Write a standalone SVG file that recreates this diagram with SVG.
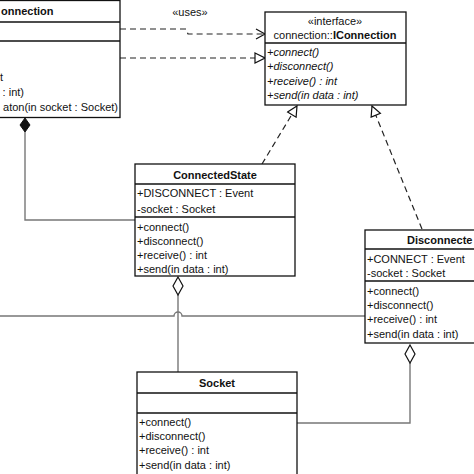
<svg xmlns="http://www.w3.org/2000/svg" width="474" height="474" viewBox="0 0 474 474">
<style>
.box{fill:#fff;stroke:#111;stroke-width:1.3}
.sep{stroke:#111;stroke-width:1.3}
text{font-family:"Liberation Sans",Arial,sans-serif;font-size:11px;fill:#111}
.b{font-weight:bold}
.i{font-style:italic}
.c{text-anchor:middle}
.dash{fill:none;stroke:#222;stroke-width:1.2;stroke-dasharray:6,4}
.sol{fill:none;stroke:#777;stroke-width:1.4}
</style>
<defs>
<marker id="tri" markerUnits="userSpaceOnUse" markerWidth="12" markerHeight="12" refX="10" refY="5" orient="auto" viewBox="-1 -1 12 12">
<path d="M0,0 L10,5 L0,10 Z" fill="#fff" stroke="#111" stroke-width="1.2"/>
</marker>
<marker id="open" markerUnits="userSpaceOnUse" markerWidth="12" markerHeight="12" refX="9" refY="5" orient="auto" viewBox="-1 -1 12 12">
<path d="M0,0 L9,5 L0,10" fill="none" stroke="#111" stroke-width="1.2"/>
</marker>
</defs>
<rect width="474" height="474" fill="#fff"/>

<g id="connectors">
<path class="dash" d="M120,29 H186 L188,34 H265" marker-end="url(#open)"/>
<path class="dash" d="M120,58 H265" marker-end="url(#tri)"/>
<path class="dash" d="M262,164 L297,106" marker-end="url(#tri)"/>
<path class="dash" d="M422,229 L372,106" marker-end="url(#tri)"/>
<path class="sol" d="M25,132 V220 H135"/>
<polygon points="25,118 30,125 25,132 20,125" fill="#111" stroke="#111" stroke-width="1"/>
<path class="sol" d="M178,295 V372"/>
<polygon points="178,277 183,286 178,295 173,286" fill="#fff" stroke="#111" stroke-width="1.2"/>
<path class="sol" d="M0,316 H174 A4,4 0 0 1 182,316 H365"/>
<path class="sol" d="M410,363 V423 H297"/>
<polygon points="410,345 415,354 410,363 405,354" fill="#fff" stroke="#111" stroke-width="1.2"/>
<text x="190" y="16" class="c">«uses»</text>
</g>

<g id="connection">
<rect class="box" x="-200" y="0.5" width="320" height="117"/>
<line class="sep" x1="-200" y1="22" x2="120" y2="22"/>
<line class="sep" x1="-200" y1="41" x2="120" y2="41"/>
<text x="1" y="15" class="b">onnection</text>
<text x="3" y="81" text-anchor="end">t</text>
<text x="24" y="96" text-anchor="end">: int)</text>
<text x="118" y="111" text-anchor="end">aton(in socket : Socket)</text>
</g>

<g id="IConnection">
<rect class="box" x="265" y="12" width="141" height="93"/>
<line class="sep" x1="265" y1="43" x2="406" y2="43"/>
<text x="335" y="25" class="c">«interface»</text>
<text x="335" y="39" class="c">connection::<tspan class="b">IConnection</tspan></text>
<text x="267" y="56" class="i">+connect()</text>
<text x="267" y="70" class="i">+disconnect()</text>
<text x="267" y="85" class="i">+receive() : int</text>
<text x="267" y="99" class="i">+send(in data : int)</text>
</g>

<g id="ConnectedState">
<rect class="box" x="135" y="164" width="160" height="112"/>
<line class="sep" x1="135" y1="184" x2="295" y2="184"/>
<line class="sep" x1="135" y1="217" x2="295" y2="217"/>
<text x="215" y="179" class="c b">ConnectedState</text>
<text x="137" y="197">+DISCONNECT : Event</text>
<text x="137" y="213">-socket : Socket</text>
<text x="137" y="231">+connect()</text>
<text x="137" y="245">+disconnect()</text>
<text x="137" y="259">+receive() : int</text>
<text x="137" y="273">+send(in data : int)</text>
</g>

<g id="DisconnectedState">
<rect class="box" x="365" y="230" width="160" height="113"/>
<line class="sep" x1="365" y1="249" x2="525" y2="249"/>
<line class="sep" x1="365" y1="281" x2="525" y2="281"/>
<text x="407" y="244" class="b">Disconnecte</text>
<text x="367" y="263">+CONNECT : Event</text>
<text x="367" y="277">-socket : Socket</text>
<text x="367" y="295">+connect()</text>
<text x="367" y="309">+disconnect()</text>
<text x="367" y="323">+receive() : int</text>
<text x="367" y="338">+send(in data : int)</text>
</g>

<g id="Socket">
<rect class="box" x="137" y="372" width="160" height="120"/>
<line class="sep" x1="137" y1="393" x2="297" y2="393"/>
<line class="sep" x1="137" y1="413" x2="297" y2="413"/>
<text x="217" y="387" class="c b">Socket</text>
<text x="139" y="426">+connect()</text>
<text x="139" y="440">+disconnect()</text>
<text x="139" y="454">+receive() : int</text>
<text x="139" y="469">+send(in data : int)</text>
</g>
</svg>
